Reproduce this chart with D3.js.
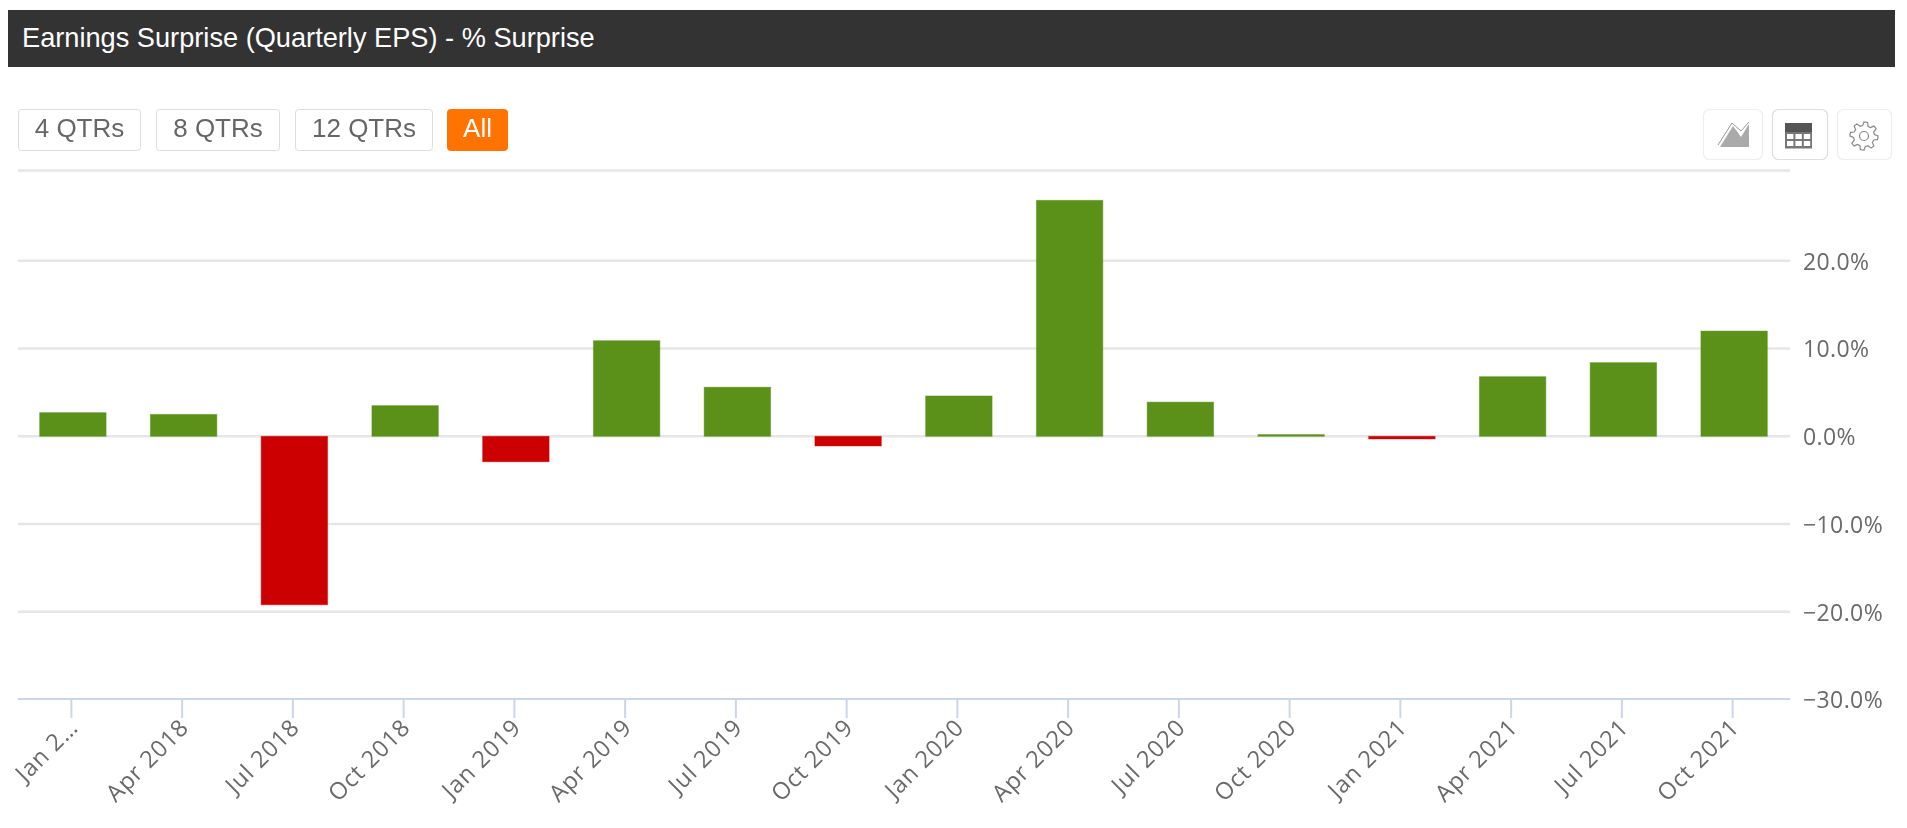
<!DOCTYPE html>
<html>
<head>
<meta charset="utf-8">
<title>Earnings Surprise</title>
<script src="https://cdnjs.cloudflare.com/ajax/libs/d3/7.8.5/d3.min.js"></script>
<style>
  html, body { margin: 0; background: #fff; overflow: hidden; }
  svg { display: block; filter: blur(0.45px); }
  .y-label { font-family: "Open Sans", sans-serif; font-size: 23px; letter-spacing: 0.4px; fill: #6a6a6a; }
  .x-label { font-family: "Open Sans", sans-serif; font-size: 23.5px; letter-spacing: 0.8px; fill: #6a6a6a; }
  .btn-label { font-family: "Liberation Sans", Arial, sans-serif; font-size: 26px; }
</style>
</head>
<body>
<svg width="1907" height="828"></svg>
<script>
const quarters = ["Jan 2…", "Apr 2018", "Jul 2018", "Oct 2018", "Jan 2019", "Apr 2019", "Jul 2019", "Oct 2019",
  "Jan 2020", "Apr 2020", "Jul 2020", "Oct 2020", "Jan 2021", "Apr 2021", "Jul 2021", "Oct 2021"];
const surprise = [2.7, 2.5, -19.2, 3.5, -2.9, 10.9, 5.6, -1.1, 4.6, 26.9, 3.9, 0.2, -0.3, 6.8, 8.4, 12.0];
const yTicks = [-30, -20, -10, 0, 10, 20];
const rangeButtons = ["4 QTRs", "8 QTRs", "12 QTRs", "All"];

const svg = d3.select("svg");
const green = "#5c9119", red = "#cc0000";

const x = d3.scaleBand().domain(quarters).range([16, 1788]).paddingInner(0.4).paddingOuter(0.2);
const y = d3.scaleLinear().domain([-30, 30.3]).range([699.5, 170.5]);

// header
svg.append("rect").attr("x", 8).attr("y", 10).attr("width", 1887).attr("height", 57).attr("fill", "#333");
svg.append("text").attr("x", 22).attr("y", 47).attr("fill", "#fff")
  .style("font-family", '"Liberation Sans", Arial, sans-serif').style("font-size", "27.2px")
  .text("Earnings Surprise (Quarterly EPS) - % Surprise");

// range buttons
const buttonX = [18.5, 156.5, 295.5, 447.5], buttonW = [122, 123, 137, 60];
const btn = svg.append("g").selectAll("g").data(rangeButtons).join("g")
  .attr("transform", (d, i) => `translate(${buttonX[i]},109.5)`);
btn.append("rect").attr("width", (d, i) => buttonW[i]).attr("height", 41).attr("rx", 3)
  .attr("fill", d => d === "All" ? "#ff7300" : "#fff")
  .attr("stroke", d => d === "All" ? "#ff7300" : "#ddd").attr("stroke-width", 1);
btn.append("text").attr("class", "btn-label").attr("x", (d, i) => buttonW[i] / 2).attr("y", 27)
  .attr("text-anchor", "middle").attr("fill", d => d === "All" ? "#fff" : "#666").text(d => d);

// icon buttons
const iconX = [1703, 1772, 1837], iconW = [59, 55, 54];
svg.append("g").selectAll("rect").data(iconX).join("rect")
  .attr("x", d => d + 0.5).attr("y", 109.5).attr("width", (d, i) => iconW[i]).attr("height", 50).attr("rx", 6)
  .attr("fill", "#fff").attr("stroke", (d, i) => i === 1 ? "#ddd" : "#eee").attr("stroke-width", 1.2);

// chart-type icon
svg.append("path").attr("d", "M1720 147L1733 126L1741 137L1749 124V147Z").attr("fill", "#aaa");
svg.append("path").attr("d", "M1718 146L1733 122L1741 133L1749 122").attr("fill", "none").attr("stroke", "#fff").attr("stroke-width", 2);
svg.append("path").attr("d", "M1718 145L1732 123L1741 131L1749 122").attr("fill", "none").attr("stroke", "#999").attr("stroke-width", 1);

// table icon
svg.append("rect").attr("x", 1785).attr("y", 123).attr("width", 27).attr("height", 25.5).attr("fill", "#777");
svg.append("rect").attr("x", 1785).attr("y", 123).attr("width", 27).attr("height", 9).attr("fill", "#555");
[0, 1, 2].forEach(c => [0, 1].forEach(r => {
  svg.append("rect").attr("x", 1787 + c * 8.4).attr("y", 134 + r * 7)
    .attr("width", 6.4).attr("height", 5).attr("fill", "#fff");
}));

// gear icon
const gearPts = d3.range(0, 48).map(i => {
  const t = i / 48 * 2 * Math.PI, r = (i % 6 < 3) ? 14 : 10.5;
  return [r, t];
});
svg.append("path").attr("transform", "translate(1864,136)")
  .attr("d", d3.lineRadial().angle(d => d[1]).radius(d => d[0]).curve(d3.curveLinearClosed)(gearPts))
  .attr("fill", "none").attr("stroke", "#888").attr("stroke-width", 1.2);
svg.append("circle").attr("cx", 1864).attr("cy", 136).attr("r", 4.5).attr("fill", "none").attr("stroke", "#888").attr("stroke-width", 1.2);

// grid
const gridValues = yTicks.slice(1).concat([30.3]);
svg.append("g").selectAll("line").data(gridValues).join("line")
  .attr("x1", 18).attr("x2", 1790).attr("y1", d => y(d)).attr("y2", d => y(d))
  .attr("stroke", "#e6e6e6").attr("stroke-width", 2.5);

// bars
svg.append("g").selectAll("rect").data(surprise).join("rect")
  .attr("x", (d, i) => x(quarters[i]) + 1.5)
  .attr("width", x.bandwidth())
  .attr("y", d => y(Math.max(d, 0)))
  .attr("height", d => Math.abs(y(d) - y(0)))
  .attr("fill", d => d < 0 ? red : green)
  .attr("stroke", d => d < 0 ? red : green).attr("stroke-opacity", 0.45).attr("stroke-width", 1);

// y axis
const yAxis = d3.axisRight(y).tickValues(yTicks).tickSize(0).tickPadding(0)
  .tickFormat(d => d3.format(".1f")(d) + "%");
svg.append("g").attr("transform", "translate(1803,0)").call(yAxis)
  .call(g => g.select(".domain").remove())
  .selectAll("text").attr("class", "y-label").attr("dy", "0.36em");

// x axis
const xAxis = d3.axisBottom(x).tickSizeOuter(0).tickSize(19).tickPadding(0);
svg.append("g").attr("transform", "translate(0,699)").call(xAxis)
  .call(g => g.select(".domain").attr("stroke", "#ccd6eb").attr("stroke-width", 2).attr("d", "M18,0H1790"))
  .call(g => g.selectAll(".tick line").attr("stroke", "#ccd6eb").attr("stroke-width", 2))
  .selectAll("text").attr("class", "x-label")
  .attr("text-anchor", "end").attr("dy", null).attr("y", 0)
  .attr("transform", "translate(8,30) rotate(-45)");
</script>
</body>
</html>
